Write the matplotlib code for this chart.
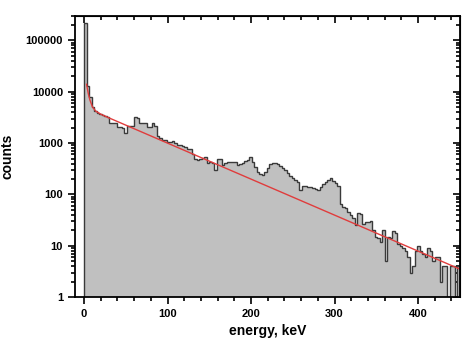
import numpy as np
import matplotlib
matplotlib.use("Agg")
import matplotlib.pyplot as plt
from matplotlib.ticker import MultipleLocator, FuncFormatter, NullFormatter

plt.rcParams['font.family'] = ['Liberation Sans', 'DejaVu Sans']
plt.rcParams['font.weight'] = 'bold'

# spectrum, 3 keV bins starting at 0 keV
bin_width = 3
counts = np.array([
    220000, 13000, 7800, 5000, 4200, 3800, 3650, 3500, 3350, 3200,
    2500, 2500, 2450, 2050, 2050, 1950, 1600, 2200, 2150, 2150,
    3200, 3050, 2500, 2450, 2450, 2050, 2050, 2500, 2150, 1400,
    1250, 1150, 1150, 1050, 1050, 1100, 1000, 910, 910, 870,
    830, 760, 760, 600, 500, 460, 485, 505, 530, 405,
    425, 405, 295, 485, 485, 370, 405, 425, 425, 425,
    425, 370, 390, 405, 445, 460, 530, 425, 340, 270,
    245, 235, 270, 325, 390, 405, 405, 390, 355, 325,
    295, 260, 225, 205, 195, 175, 120, 145, 145, 138,
    138, 132, 126, 121, 138, 158, 173, 190, 206, 181,
    165, 144, 64, 56, 54, 45, 39, 35, 25, 43,
    41, 26, 29, 29, 30, 20, 15, 14, 12, 20,
    5, 15, 14, 19, 18, 11, 10, 9, 8, 6,
    3, 4, 8, 10, 8, 7, 6, 9, 8, 5,
    6, 6, 2, 4, 4, 0, 4, 4, 0, 4])
edges = np.arange(len(counts) + 1) * bin_width

# fitted background
fit_energy = [3, 5, 7, 10, 14, 20, 30, 450]
fit_counts = [14000, 9300, 6900, 5100, 4200, 3660, 3090, 3.5]

fig = plt.figure(figsize=(4.74, 3.42), dpi=100)
ax = fig.add_axes([0.158, 0.1316, 0.812, 0.8216])

shown = np.clip(counts, 1, None)
ax.stairs(shown, edges, baseline=1, fill=True, color='#c0c0c0', lw=0)
ax.stairs(shown, edges, baseline=1, color='#3a3a3a', lw=1.0)
ax.plot(fit_energy, fit_counts, color='#e03c3c', lw=1.0)

ax.set_yscale('log')
ax.set_xlim(-11, 450)
ax.set_ylim(1, 3e5)

ax.xaxis.set_major_locator(MultipleLocator(100))
ax.xaxis.set_minor_locator(MultipleLocator(20))
ax.yaxis.set_major_formatter(FuncFormatter(lambda v, p: f"{v:.0f}"))
ax.yaxis.set_minor_formatter(NullFormatter())

ax.tick_params(which='both', direction='out', width=1.2, labelsize=8)
ax.tick_params(which='major', length=5)
ax.tick_params(which='minor', length=3)
for s in ax.spines.values():
    s.set_linewidth(1.3)

top = ax.secondary_xaxis('top')
top.xaxis.set_major_locator(MultipleLocator(100))
top.xaxis.set_minor_locator(MultipleLocator(20))
top.tick_params(which='both', direction='in', width=1.2, labeltop=False)
top.tick_params(which='major', length=5)
top.tick_params(which='minor', length=3)

right = ax.secondary_yaxis('right')
right.tick_params(which='both', direction='in', width=1.2, labelright=False)
right.tick_params(which='major', length=5)
right.tick_params(which='minor', length=3)
right.yaxis.set_minor_formatter(NullFormatter())

ax.set_xlabel('energy, keV', fontsize=10, fontweight='bold', labelpad=4)
ax.set_ylabel('counts', fontsize=10, fontweight='bold', labelpad=8)

fig.savefig('out.png', dpi=100)
